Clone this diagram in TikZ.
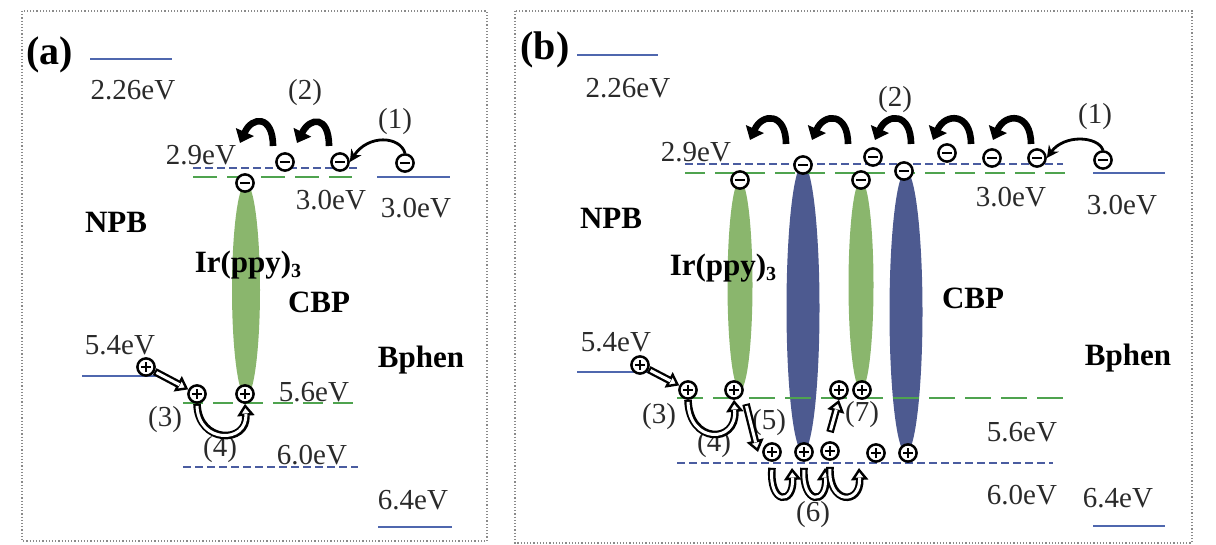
\documentclass[tikz,border=0pt]{standalone}
\usepackage{fontspec}
\setmainfont{Liberation Serif}
\usetikzlibrary{arrows.meta}
\definecolor{lblue}{HTML}{4F67AE}
\definecolor{dblue}{HTML}{4A5CA0}
\definecolor{lgreen}{HTML}{4FA34F}
\definecolor{egreen}{HTML}{8AB66D}
\definecolor{eblue}{HTML}{4D5A90}
\definecolor{txt}{HTML}{2A2A2A}
\definecolor{frm}{HTML}{8A8A8A}
\newcommand\hollowarrow[1]{%
  \draw[line width=3.8pt,-{Triangle[open,fill=white,length=6pt,width=8.5pt,line width=1.2pt]}] #1;
  \draw[white,line width=1.5pt,shorten >=5pt,shorten <=1pt] #1;}
\tikzset{
  carrier/.style={circle,draw=black,line width=1.25pt,fill=white,minimum size=8.6pt,inner sep=0pt},
  elec/.style={carrier,path picture={\draw[line width=1.3pt]
      ([xshift=-2.4pt]path picture bounding box.center) -- ([xshift=2.4pt]path picture bounding box.center);}},
  hole/.style={carrier,path picture={\draw[line width=1.2pt]
      ([xshift=-2.4pt]path picture bounding box.center) -- ([xshift=2.4pt]path picture bounding box.center)
      ([yshift=-2.4pt]path picture bounding box.center) -- ([yshift=2.4pt]path picture bounding box.center);}},
  lev/.style={lblue,line width=1.25pt},
  bdash/.style={dblue,line width=1.05pt,dash pattern=on 4pt off 2pt},
  gdash/.style={lgreen,line width=1.15pt,dash pattern=on 12pt off 5pt},
  gdashs/.style={lgreen,line width=1.15pt,dash pattern=on 10pt off 5pt},
  ev/.style={text=txt,font=\fontsize{14.5}{16}\selectfont,inner sep=0pt},
  mat/.style={text=black,font=\bfseries\fontsize{15.5}{17}\selectfont,inner sep=0pt},
  panel/.style={text=black,font=\bfseries\fontsize{20}{22}\selectfont,inner sep=0pt},
  frame/.style={frm,line width=0.6pt,densely dotted},
  hop/.style={line width=3.3pt,-{Triangle[length=6pt,width=9.5pt]}},
  jump/.style={line width=1.4pt,-{Stealth[length=6pt,width=6pt]}},
}
\newcommand\irppy{Ir(ppy)\raisebox{-0.35ex}{\fontsize{10}{10}\selectfont 3}}
\begin{document}
\begin{tikzpicture}[x=0.5pt,y=-0.5pt]
\useasboundingbox (0,0) rectangle (1216,545);
% frames
\draw[frame] (22,11) rectangle (487,541);
\draw[frame] (515,11) rectangle (1192,543);

%%%%%%%%%%%%%%%% panel (a)
\fill[egreen] (246,290) ellipse [x radius=14, y radius=107];
\node[panel] (pa) at (50,55) {(a)};
\draw[lev] (90,59) -- (172,59);
\node[ev] (a226) at (133,90) {2.26eV};
\node[ev] (a2) at (305,93) {(2)};
\node[ev] (a1) at (395,122) {(1)};
\node[ev] (a29) at (201,155) {2.9eV};
\draw[bdash] (193,168) -- (358,168);
\draw[gdash] (193,177) -- (352,177);
\draw[lev] (377,177) -- (450,177);
\node[ev] (a30g) at (331,200) {3.0eV};
\node[ev] (a30b) at (416,208) {3.0eV};
\node[mat] (anpb) at (116,222) {NPB};
\node[mat] (air) at (248,265) {\irppy};
\node[mat] (acbp) at (319,302) {CBP};
\node[mat] (abph) at (421,360) {Bphen};
\node[ev] (a54) at (120,345) {5.4eV};
\draw[lev] (82,376) -- (160,376);
\draw[lgreen,line width=1.15pt,dash pattern=on 10pt off 5pt] (183,403) -- (358,403);
\node[ev] (a56) at (314,392) {5.6eV};
\node[ev] (a3) at (165,420) {(3)};
\node[ev] (a4) at (220,450) {(4)};
\node[ev] (a60) at (312,455) {6.0eV};
\draw[bdash] (183,467) -- (358,467);
\node[ev] (a64) at (413,500) {6.4eV};
\draw[lev] (378,527) -- (452,527);
% carriers (a)
\node[elec] (ae1) at (285,162) {};
\node[elec] (ae2) at (340,162) {};
\node[elec] (ae3) at (405,163) {};
\node[elec] (ae4) at (245,183) {};
\node[hole] (ah1) at (146,367) {};
\node[hole] (ah2) at (197,394) {};
\node[hole] (ah3) at (245,394) {};
% arrows (a)
\draw[hop] (273,146) .. controls (273,115) and (252,116) .. (240,143);
\draw[hop] (329,146) .. controls (329,115) and (310,117) .. (297,143);
\draw[jump] (ae3.north) .. controls (400,136) and (368,134) .. (ae2.east);
\hollowarrow{(ah1) -- (ah2)}
\hollowarrow{(ah2.south) .. controls (198,444) and (248,444) .. (ah3.south)}

%%%%%%%%%%%%%%%% panel (b)
\fill[egreen] (740,285) ellipse [x radius=12.5, y radius=105];
\fill[eblue] (803,308) ellipse [x radius=16.5, y radius=144];
\fill[egreen] (861,285) ellipse [x radius=12.5, y radius=105];
\fill[eblue] (906,312) ellipse [x radius=16.5, y radius=141];
\node[panel] (pb) at (545,50) {(b)};
\draw[lev] (577,55) -- (658,55);
\node[ev] (b226) at (628,88) {2.26eV};
\node[ev] (b2) at (895,100) {(2)};
\node[ev] (b1) at (1095,117) {(1)};
\node[ev] (b29) at (696,152) {2.9eV};
\draw[bdash] (685,164) -- (1063,164);
\draw[gdashs] (685,173) -- (1065,173);
\draw[lev] (1093,173) -- (1165,173);
\node[ev] (b30g) at (1011,197) {3.0eV};
\node[ev] (b30b) at (1122,205) {3.0eV};
\node[mat] (bnpb) at (611,218) {NPB};
\node[mat] (bir) at (723,268) {\irppy};
\node[mat] (bcbp) at (973,298) {CBP};
\node[mat] (bbph) at (1128,358) {Bphen};
\node[ev] (b54) at (616,342) {5.4eV};
\draw[lev] (577,372) -- (652,372);
\draw[lgreen,line width=1.15pt,dash pattern=on 13pt off 5pt] (677,398) -- (1065,398);
\node[ev] (b56) at (1022,432) {5.6eV};
\node[ev] (b3) at (659,417) {(3)};
\node[ev] (b4) at (714,445) {(4)};
\node[ev] (b5) at (769,423) {(5)};
\node[ev] (b7) at (862,415) {(7)};
\node[ev] (b6) at (813,515) {(6)};
\draw[bdash] (677,463) -- (1053,463);
\node[ev] (b60) at (1022,495) {6.0eV};
\node[ev] (b64) at (1118,498) {6.4eV};
\draw[lev] (1093,526) -- (1165,526);
% carriers (b)
\node[elec] (be1) at (740,180) {};
\node[elec] (be2) at (803,165) {};
\node[elec] (be3) at (861,180) {};
\node[elec] (be4) at (873,157) {};
\node[elec] (be5) at (904,171) {};
\node[elec] (be6) at (947,153) {};
\node[elec] (be7) at (992,158) {};
\node[elec] (be8) at (1037,158) {};
\node[elec] (be9) at (1103,160) {};
\node[hole] (bh1) at (640,365) {};
\node[hole] (bh2) at (688,390) {};
\node[hole] (bh3) at (734,390) {};
\node[hole] (bh9) at (839,390) {};
\node[hole] (bh10) at (862,390) {};
\node[hole] (bh4) at (772,452) {};
\node[hole] (bh5) at (804,452) {};
\node[hole] (bh6) at (830,451) {};
\node[hole] (bh7) at (876,453) {};
\node[hole] (bh8) at (908,453) {};
% arrows (b)
\foreach \t/\s in {750/786, 812/848, 875/911, 933/971, 993/1031}{
  \draw[hop] (\s,144) .. controls (\s,112) and (\t+12,113) .. (\t,140);
}
\draw[jump] (be9.north) .. controls (1098,136) and (1064,134) .. (be8.east);
\hollowarrow{(bh1) -- (bh2)}
\hollowarrow{(bh2.south) .. controls (689,444) and (737,444) .. (bh3.south)}
\coordinate (s5) at (746,404);
\coordinate (t5) at (758,452);
\hollowarrow{(s5) -- (t5)}
\hollowarrow{([yshift=4.5pt]bh6.north) -- (bh9.south)}
\hollowarrow{([yshift=-3pt]bh4.south) .. controls (769,505) and (794,505) .. (792,468)}
\hollowarrow{([yshift=-3pt]bh5.south) .. controls (802,505) and (827,505) .. (825,468)}
\hollowarrow{([yshift=-3pt]bh6.south) .. controls (828,505) and (861,505) .. (859,468)}
\end{tikzpicture}
\end{document}
